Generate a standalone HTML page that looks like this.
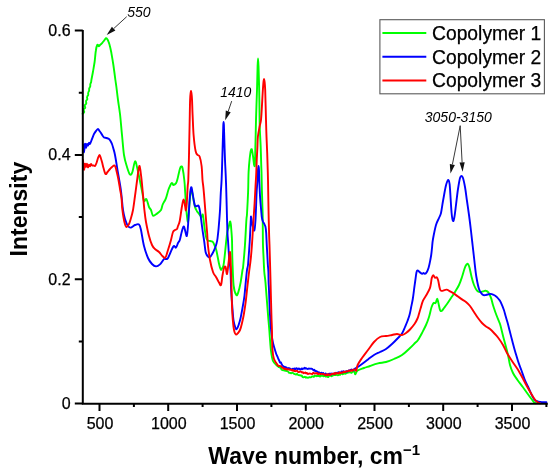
<!DOCTYPE html>
<html><head><meta charset="utf-8"><title>Spectra</title>
<style>html,body{margin:0;padding:0;background:#fff}body{width:550px;height:474px;position:relative;overflow:hidden}</style>
</head><body>
<svg width="550" height="474" viewBox="0 0 550 474" style="position:absolute;left:0;top:0">
<rect width="550" height="474" fill="#fff"/>
<path d="M82.6 113.8 C82.9 113.5 84.0 112.7 84.2 112.0 C84.4 111.3 83.4 110.3 83.6 109.6 C83.7 108.8 85.0 108.4 85.2 107.7 C85.4 107.0 84.5 106.0 84.7 105.3 C84.9 104.6 86.0 104.2 86.2 103.5 C86.5 102.8 85.8 101.9 86.0 101.2 C86.2 100.4 87.1 100.0 87.3 99.3 C87.4 98.5 86.9 97.6 87.1 96.9 C87.2 96.2 88.0 95.7 88.2 95.0 C88.4 94.3 88.0 93.4 88.2 92.7 C88.3 92.0 88.9 91.4 89.1 90.7 C89.3 90.0 89.0 89.1 89.2 88.4 C89.4 87.7 90.0 87.2 90.2 86.5 C90.4 85.8 90.2 84.9 90.3 84.2 C90.5 83.5 90.9 82.9 91.1 82.2 C91.3 81.5 91.1 81.7 91.4 80.0 C91.7 78.2 92.5 74.5 93.0 71.5 C93.5 68.5 94.1 65.4 94.6 62.0 C95.1 58.6 95.3 53.9 95.8 51.0 C96.2 48.1 96.8 45.6 97.3 44.8 C97.8 44.0 98.2 46.3 98.7 46.3 C99.2 46.3 99.5 45.5 100.0 45.0 C100.5 44.5 101.0 44.3 101.6 43.6 C102.2 42.9 103.1 41.9 103.8 41.0 C104.5 40.1 105.4 38.5 106.0 38.2 C106.6 37.9 107.0 38.8 107.4 39.3 C107.8 39.8 108.1 40.7 108.4 41.5 C108.7 42.3 108.9 42.5 109.4 44.2 C109.9 46.0 110.6 48.6 111.2 52.0 C111.8 55.4 112.6 59.8 113.3 64.5 C114.0 69.2 114.9 76.2 115.4 80.0 C115.9 83.8 116.0 83.7 116.4 87.0 C116.8 90.3 117.4 95.5 118.0 100.0 C118.6 104.5 119.3 108.2 120.0 114.0 C120.7 119.8 121.3 128.2 122.0 135.0 C122.7 141.8 123.2 149.7 124.0 155.0 C124.8 160.3 126.0 163.7 127.0 167.0 C128.0 170.3 129.1 173.8 130.0 174.6 C130.9 175.4 131.6 174.2 132.4 172.0 C133.2 169.8 134.2 162.2 135.0 161.4 C135.8 160.6 136.2 163.7 137.0 167.0 C137.8 170.3 139.2 177.0 140.0 181.0 C140.8 185.0 141.3 187.7 142.0 191.0 C142.7 194.3 143.3 199.7 144.0 201.0 C144.7 202.3 145.6 198.0 146.4 199.0 C147.2 200.0 148.2 205.2 149.0 207.0 C149.8 208.8 150.3 208.6 151.0 210.0 C151.7 211.4 152.0 215.0 153.0 215.6 C154.0 216.2 155.7 214.5 157.0 213.6 C158.3 212.7 160.1 211.4 161.0 210.0 C161.9 208.6 162.0 206.3 162.5 205.0 C163.0 203.7 163.4 203.1 164.0 202.0 C164.6 200.9 165.2 200.5 165.9 198.4 C166.7 196.3 167.8 191.6 168.5 189.5 C169.2 187.4 169.5 187.1 170.0 186.0 C170.5 184.9 171.2 183.5 171.6 183.1 C172.0 182.7 172.3 183.3 172.6 183.6 C172.9 183.9 172.9 185.1 173.5 185.0 C174.1 184.9 175.4 184.1 176.1 183.1 C176.8 182.1 177.1 180.5 177.5 179.0 C177.9 177.5 178.2 175.9 178.6 174.2 C179.0 172.4 179.6 169.8 180.0 168.5 C180.4 167.2 180.8 166.6 181.2 166.5 C181.6 166.4 182.0 165.8 182.5 168.0 C183.0 170.2 183.9 175.9 184.3 180.0 C184.8 184.1 184.9 188.0 185.2 192.7 C185.5 197.4 185.9 203.8 186.2 208.0 C186.5 212.2 186.9 216.0 187.2 218.2 C187.5 220.4 187.8 223.2 188.2 221.0 C188.6 218.8 189.0 209.8 189.4 205.0 C189.8 200.2 190.2 194.6 190.6 192.0 C190.9 189.4 191.2 189.2 191.5 189.5 C191.8 189.8 192.1 192.0 192.5 194.0 C192.9 196.0 193.4 199.4 193.8 201.6 C194.2 203.8 194.6 205.8 195.1 207.4 C195.6 209.0 196.4 210.1 197.0 211.2 C197.6 212.2 198.2 212.7 198.9 213.7 C199.7 214.7 200.9 216.9 201.5 217.0 C202.1 217.1 202.4 214.2 202.7 214.4 C203.0 214.6 203.1 215.9 203.4 218.2 C203.7 220.5 204.1 225.0 204.6 228.4 C205.1 231.8 205.9 236.5 206.5 238.5 C207.1 240.5 207.5 240.1 208.0 240.5 C208.5 240.9 208.8 240.8 209.4 240.9 C210.0 241.0 210.9 241.0 211.5 241.3 C212.1 241.6 212.6 241.7 213.2 242.5 C213.8 243.3 214.3 244.7 214.8 246.0 C215.3 247.3 215.7 247.6 216.4 250.5 C217.1 253.4 218.2 260.0 218.9 263.2 C219.6 266.4 220.3 268.7 220.8 269.6 C221.3 270.5 221.6 269.1 222.0 268.5 C222.4 267.9 223.0 267.6 223.4 265.7 C223.8 263.8 224.2 260.4 224.6 256.8 C225.0 253.2 225.5 248.1 225.9 244.1 C226.3 240.1 226.8 235.4 227.2 232.6 C227.6 229.8 228.2 229.0 228.6 227.5 C229.0 226.0 229.2 224.5 229.4 223.5 C229.7 222.5 229.9 221.3 230.1 221.4 C230.3 221.5 230.6 222.4 230.8 224.0 C231.0 225.6 231.2 228.3 231.4 231.0 C231.6 233.7 231.8 235.2 232.0 240.0 C232.2 244.8 232.1 252.4 232.4 260.0 C232.7 267.6 233.0 279.5 233.6 285.3 C234.2 291.1 235.4 293.5 236.2 294.8 C236.9 296.1 237.4 294.9 238.1 292.9 C238.8 290.9 239.9 286.5 240.6 282.7 C241.3 278.9 242.1 272.6 242.5 270.0 C242.9 267.4 242.7 270.8 243.1 267.0 C243.5 263.2 244.2 255.2 244.8 247.4 C245.4 239.6 246.0 225.6 246.4 220.0 C246.8 214.4 246.7 218.7 247.0 214.0 C247.3 209.3 247.8 199.0 248.1 192.0 C248.4 185.0 248.3 177.6 248.6 172.0 C248.9 166.4 249.3 162.0 249.7 158.4 C250.1 154.8 250.4 152.2 250.8 150.7 C251.2 149.2 251.5 148.7 251.9 149.6 C252.3 150.5 252.6 153.6 253.0 156.2 C253.4 158.8 253.8 163.7 254.1 165.0 C254.4 166.3 254.7 167.7 254.9 163.9 C255.1 160.1 255.3 149.3 255.5 142.0 C255.7 134.7 255.8 128.7 256.0 120.0 C256.2 111.3 256.7 99.0 257.0 90.0 C257.3 81.0 257.4 71.3 257.6 66.0 C257.8 60.7 257.9 58.4 258.0 58.4 C258.1 58.4 258.3 60.7 258.5 66.0 C258.7 71.3 259.0 81.0 259.2 90.0 C259.4 99.0 259.5 113.2 259.6 120.0 C259.7 126.8 259.7 126.4 259.9 131.0 C260.1 135.6 260.5 141.9 260.7 147.4 C260.9 152.9 261.1 159.8 261.2 163.9 C261.3 168.0 261.4 168.2 261.5 172.0 C261.6 175.8 261.7 181.3 261.8 186.5 C261.9 191.7 262.2 198.1 262.3 203.0 C262.4 207.9 262.6 209.5 262.7 216.0 C262.8 222.5 262.8 234.9 262.9 242.0 C263.0 249.1 263.4 253.4 263.6 258.4 C263.8 263.4 264.0 267.9 264.3 272.0 C264.6 276.1 265.1 277.7 265.5 282.7 C265.9 287.7 266.5 295.9 267.0 301.8 C267.5 307.8 267.9 313.7 268.3 318.4 C268.7 323.1 269.1 326.9 269.3 330.0 C269.6 333.1 269.5 333.5 269.8 337.0 C270.1 340.5 270.5 347.0 271.0 351.0 C271.5 355.0 272.0 358.6 273.0 361.0 C274.0 363.4 276.2 364.8 277.0 365.7 C277.8 366.5 277.5 365.8 277.8 366.0 C278.1 366.2 278.3 366.8 278.6 367.0 C278.9 367.1 279.1 367.1 279.4 367.2 C279.7 367.3 279.9 367.4 280.2 367.6 C280.5 367.8 280.7 368.2 281.0 368.6 C281.3 369.0 281.5 369.6 281.8 369.8 C282.1 370.1 282.3 370.0 282.6 370.1 C282.9 370.1 283.1 370.4 283.4 370.4 C283.7 370.3 283.9 369.9 284.2 370.0 C284.5 370.1 284.7 370.6 285.0 370.7 C285.3 370.9 285.5 370.7 285.8 370.8 C286.1 370.8 286.3 370.9 286.6 371.0 C286.9 371.0 287.1 371.1 287.4 371.2 C287.7 371.3 287.9 371.4 288.2 371.7 C288.5 371.9 288.7 372.6 289.0 372.8 C289.3 373.0 289.5 372.8 289.8 372.9 C290.1 372.9 290.3 373.0 290.6 373.0 C290.9 373.1 291.1 373.3 291.4 373.2 C291.7 373.2 291.9 372.7 292.2 372.7 C292.5 372.6 292.7 372.8 293.0 373.0 C293.3 373.2 293.5 373.5 293.8 373.6 C294.1 373.8 294.3 373.8 294.6 374.0 C294.9 374.1 295.1 374.2 295.4 374.3 C295.7 374.4 295.9 374.6 296.2 374.6 C296.5 374.5 296.7 373.8 297.0 373.8 C297.3 373.9 297.5 374.6 297.8 374.8 C298.1 375.0 298.3 375.1 298.6 375.2 C298.9 375.3 299.1 375.3 299.4 375.3 C299.7 375.3 299.9 375.1 300.2 375.2 C300.5 375.2 300.7 375.8 301.0 375.8 C301.3 375.9 301.5 375.4 301.8 375.6 C302.1 375.8 302.3 376.8 302.6 377.0 C302.9 377.3 303.1 377.2 303.4 377.3 C303.7 377.3 303.9 377.1 304.2 377.1 C304.5 377.0 304.7 376.7 305.0 376.8 C305.3 376.9 305.5 377.6 305.8 377.7 C306.1 377.7 306.3 377.3 306.6 377.3 C306.9 377.3 307.1 377.6 307.4 377.7 C307.7 377.8 307.9 377.8 308.2 377.7 C308.5 377.7 308.7 377.4 309.0 377.3 C309.3 377.3 309.5 377.3 309.8 377.3 C310.1 377.3 310.3 377.4 310.6 377.4 C310.9 377.3 311.1 377.1 311.4 377.0 C311.7 376.8 311.9 376.5 312.2 376.4 C312.5 376.4 312.7 376.4 313.0 376.4 C313.3 376.5 313.5 377.0 313.8 376.9 C314.1 376.8 314.3 376.0 314.6 375.7 C314.9 375.5 315.1 375.5 315.4 375.6 C315.7 375.6 315.9 376.1 316.2 376.2 C316.5 376.2 316.7 375.7 317.0 375.7 C317.3 375.7 317.5 376.0 317.8 376.0 C318.1 376.1 318.3 376.0 318.6 376.0 C318.9 375.9 319.1 375.7 319.4 375.8 C319.7 375.9 319.9 376.7 320.2 376.6 C320.5 376.6 320.7 375.7 321.0 375.6 C321.3 375.5 321.5 375.9 321.8 375.9 C322.1 375.9 322.3 375.6 322.6 375.6 C322.9 375.7 323.1 376.2 323.4 376.2 C323.7 376.2 323.9 375.8 324.2 375.7 C324.5 375.7 324.7 375.8 325.0 376.0 C325.3 376.1 325.5 376.6 325.8 376.6 C326.1 376.6 326.3 376.2 326.6 376.2 C326.9 376.2 327.1 376.4 327.4 376.6 C327.7 376.7 327.9 377.2 328.2 377.1 C328.5 377.0 328.7 376.1 329.0 375.9 C329.3 375.6 329.5 375.7 329.8 375.7 C330.1 375.6 330.3 375.6 330.6 375.7 C330.9 375.8 331.1 376.2 331.4 376.3 C331.7 376.3 331.9 376.1 332.2 375.9 C332.5 375.7 332.7 375.4 333.0 375.3 C333.3 375.1 333.5 375.3 333.8 375.2 C334.1 375.2 334.3 374.9 334.6 374.9 C334.9 374.8 335.1 375.1 335.4 375.1 C335.7 375.0 335.9 374.4 336.2 374.4 C336.5 374.4 336.7 374.9 337.0 375.1 C337.3 375.2 337.5 375.2 337.8 375.2 C338.1 375.2 338.3 375.2 338.6 375.1 C338.9 375.0 339.1 374.7 339.4 374.6 C339.7 374.6 339.9 375.0 340.2 374.8 C340.5 374.5 340.7 373.6 341.0 373.4 C341.3 373.2 341.5 373.4 341.8 373.6 C342.1 373.7 342.3 374.2 342.6 374.3 C342.9 374.3 343.1 374.1 343.4 373.9 C343.7 373.7 343.9 373.3 344.2 373.2 C344.5 373.2 344.7 373.8 345.0 373.8 C345.3 373.8 345.5 373.3 345.8 373.2 C346.1 373.1 346.3 373.4 346.6 373.3 C346.9 373.2 347.1 372.7 347.4 372.6 C347.7 372.4 347.9 372.3 348.2 372.3 C348.5 372.3 348.7 372.6 349.0 372.6 C349.3 372.5 349.5 372.1 349.8 372.1 C350.1 372.0 350.3 372.1 350.6 372.3 C350.9 372.4 351.1 373.0 351.4 372.9 C351.7 372.9 351.9 372.2 352.2 372.0 C352.5 371.8 352.7 371.6 353.0 371.5 C353.3 371.4 353.5 371.3 353.8 371.4 C354.1 371.6 354.3 371.9 354.6 372.4 C354.9 372.8 354.9 374.5 355.4 374.2 C355.9 373.9 356.2 371.6 357.6 370.6 C359.0 369.6 361.9 368.8 364.0 368.0 C366.1 367.2 367.7 366.8 370.0 366.0 C372.3 365.2 375.3 364.1 378.0 363.4 C380.7 362.7 383.3 362.7 386.0 362.0 C388.7 361.3 391.3 360.2 394.0 359.0 C396.7 357.8 399.3 356.8 402.0 355.0 C404.7 353.2 407.8 350.0 410.0 348.0 C412.2 346.0 413.7 344.3 415.0 343.0 C416.3 341.7 416.8 341.7 418.0 340.0 C419.2 338.3 420.7 335.5 422.0 333.0 C423.3 330.5 424.8 327.7 426.0 325.0 C427.2 322.3 428.1 320.0 429.0 317.0 C429.9 314.0 430.8 309.3 431.6 307.0 C432.4 304.7 432.9 303.7 433.6 303.0 C434.3 302.3 435.0 303.7 435.6 303.0 C436.2 302.3 436.7 298.6 437.2 298.6 C437.7 298.6 437.9 301.1 438.4 303.0 C438.9 304.9 439.5 308.7 440.0 310.0 C440.5 311.3 440.9 311.3 441.6 311.0 C442.3 310.7 443.1 309.2 444.0 308.0 C444.9 306.8 445.8 305.7 447.0 304.0 C448.2 302.3 449.7 300.0 451.0 298.0 C452.3 296.0 453.7 294.2 455.0 292.0 C456.3 289.8 457.8 287.5 459.0 285.0 C460.2 282.5 461.1 279.7 462.0 277.0 C462.9 274.3 463.7 271.1 464.4 269.0 C465.1 266.9 465.8 265.4 466.4 264.6 C467.0 263.8 467.5 263.4 468.0 264.0 C468.5 264.6 469.0 265.8 469.6 268.0 C470.2 270.2 470.9 274.2 471.6 277.0 C472.3 279.8 473.1 282.7 474.0 285.0 C474.9 287.3 476.0 289.4 477.0 290.6 C478.0 291.8 479.0 291.9 480.0 292.0 C481.0 292.1 482.1 291.6 483.0 291.4 C483.9 291.2 484.6 290.5 485.5 290.7 C486.4 290.9 487.7 291.3 488.6 292.6 C489.6 293.9 490.5 296.4 491.2 298.4 C491.9 300.4 492.3 302.8 492.9 304.7 C493.5 306.6 494.0 308.2 494.6 310.0 C495.2 311.8 495.9 313.6 496.6 315.5 C497.3 317.4 498.3 319.8 499.0 321.5 C499.7 323.2 499.9 323.4 500.6 326.0 C501.3 328.6 502.4 333.5 503.3 337.0 C504.2 340.5 505.2 344.0 506.0 347.0 C506.8 350.0 507.3 352.0 508.0 355.0 C508.7 358.0 509.2 362.0 510.0 365.0 C510.8 368.0 511.8 370.5 513.0 373.0 C514.2 375.5 515.9 377.7 517.5 380.0 C519.1 382.3 521.1 384.7 522.8 387.0 C524.5 389.3 526.3 392.0 527.8 394.0 C529.2 396.0 530.4 397.6 531.5 399.0 C532.6 400.4 533.5 401.7 534.2 402.4 C535.0 403.1 535.7 403.1 536.0 403.3" fill="none" stroke="#00ff00" stroke-width="1.90" stroke-linejoin="round" stroke-linecap="round"/>
<path d="M83.0 144.5 C83.2 145.8 83.7 152.4 84.0 152.3 C84.3 152.2 84.7 144.6 85.0 143.8 C85.3 143.1 85.7 147.7 86.0 147.7 C86.3 147.8 86.7 144.3 87.0 143.9 C87.3 143.6 87.7 145.8 88.0 145.6 C88.3 145.5 88.7 143.1 89.0 142.8 C89.3 142.5 89.5 144.5 90.0 143.9 C90.5 143.3 91.3 140.6 92.0 139.0 C92.7 137.4 93.3 135.3 94.0 134.0 C94.7 132.7 95.3 131.8 96.0 131.0 C96.7 130.2 97.4 129.0 98.0 129.0 C98.6 129.0 99.0 130.3 99.5 131.0 C100.0 131.7 100.5 132.2 101.0 133.0 C101.5 133.8 102.0 134.8 102.5 135.5 C103.0 136.2 103.3 137.0 104.0 137.4 C104.7 137.8 105.7 137.7 106.5 138.0 C107.3 138.3 108.3 138.5 109.0 139.0 C109.7 139.5 110.0 140.2 110.5 141.0 C111.0 141.8 111.5 142.7 112.0 144.0 C112.5 145.3 113.0 147.2 113.5 149.0 C114.0 150.8 114.2 151.0 115.0 155.0 C115.8 159.0 117.0 167.0 118.0 173.0 C119.0 179.0 120.2 184.8 121.0 191.0 C121.8 197.2 122.3 205.3 123.0 210.0 C123.7 214.7 124.2 216.3 125.0 219.0 C125.8 221.7 127.0 224.6 128.0 226.0 C129.0 227.4 129.8 227.8 131.0 227.6 C132.2 227.4 133.7 225.5 135.0 225.0 C136.3 224.5 138.0 223.6 139.0 224.4 C140.0 225.2 140.2 226.4 141.0 230.0 C141.8 233.6 142.8 241.3 144.0 246.0 C145.2 250.7 146.7 255.0 148.0 258.0 C149.3 261.0 150.7 262.6 152.0 264.0 C153.3 265.4 154.7 266.3 156.0 266.4 C157.3 266.5 158.7 265.6 160.0 264.4 C161.3 263.2 163.0 259.9 164.0 259.0 C165.0 258.1 165.3 259.2 166.0 259.0 C166.7 258.8 167.0 259.7 168.0 258.0 C169.0 256.3 171.0 251.0 172.0 249.0 C173.0 247.0 173.3 246.2 174.0 246.0 C174.7 245.8 175.3 248.1 176.0 247.6 C176.7 247.1 177.4 244.3 178.0 243.0 C178.6 241.7 179.2 241.8 179.8 240.0 C180.4 238.2 181.1 234.2 181.7 232.0 C182.3 229.8 183.1 226.9 183.6 226.5 C184.1 226.1 184.4 228.0 184.9 229.6 C185.4 231.2 186.3 236.8 186.8 236.0 C187.3 235.2 187.7 230.0 188.1 224.5 C188.5 219.0 189.0 208.8 189.4 203.0 C189.8 197.2 190.2 192.6 190.6 190.0 C190.9 187.4 191.2 187.0 191.5 187.4 C191.8 187.8 192.1 190.5 192.5 192.7 C192.9 194.9 193.4 198.2 193.8 200.4 C194.2 202.6 194.6 205.1 195.1 206.0 C195.6 206.9 196.5 206.1 197.0 206.0 C197.5 205.9 197.9 205.1 198.3 205.5 C198.7 205.9 199.1 206.7 199.5 208.6 C199.9 210.5 200.4 213.9 200.8 217.0 C201.2 220.1 201.7 223.8 202.1 227.0 C202.5 230.2 203.0 233.5 203.4 236.0 C203.8 238.5 203.9 239.3 204.3 242.0 C204.7 244.7 205.1 249.7 205.6 252.0 C206.1 254.3 206.8 255.2 207.5 256.0 C208.2 256.8 209.1 257.6 210.0 257.0 C210.9 256.4 212.2 254.0 213.0 252.5 C213.8 251.0 214.5 249.4 215.1 247.9 C215.7 246.4 216.1 245.1 216.5 243.5 C216.9 241.9 217.2 241.0 217.5 238.5 C217.8 236.0 218.2 232.8 218.6 228.4 C219.0 224.0 219.5 217.8 219.9 211.8 C220.3 205.9 220.5 198.0 220.8 192.7 C221.1 187.4 221.3 186.3 221.6 180.0 C221.9 173.7 222.2 162.5 222.4 155.0 C222.6 147.5 222.8 140.0 223.0 135.0 C223.2 130.0 223.2 127.2 223.3 125.0 C223.4 122.8 223.5 122.0 223.6 122.0 C223.7 122.0 223.8 122.8 223.9 125.0 C224.0 127.2 224.0 129.2 224.2 135.0 C224.4 140.8 224.7 152.5 225.0 160.0 C225.3 167.5 225.7 173.5 225.9 180.0 C226.2 186.5 226.3 192.7 226.5 199.0 C226.7 205.3 226.8 212.2 227.0 218.0 C227.2 223.8 227.3 229.5 227.5 233.5 C227.7 237.5 227.8 237.6 228.1 242.0 C228.4 246.4 228.9 255.3 229.3 260.0 C229.7 264.7 230.2 265.2 230.5 270.0 C230.8 274.8 230.8 282.7 231.1 289.0 C231.4 295.3 232.0 302.7 232.4 308.0 C232.8 313.3 233.1 317.7 233.6 321.0 C234.1 324.3 235.0 326.7 235.5 328.0 C236.0 329.3 236.3 329.6 236.8 329.0 C237.3 328.4 238.1 326.5 238.7 324.7 C239.3 322.9 240.0 320.8 240.6 318.0 C241.2 315.2 241.8 311.8 242.5 308.0 C243.2 304.2 244.0 299.7 244.5 295.5 C245.0 291.3 245.3 286.9 245.7 282.7 C246.1 278.4 246.6 273.1 247.0 270.0 C247.4 266.9 247.7 268.7 248.1 264.0 C248.5 259.3 249.2 249.3 249.7 242.0 C250.1 234.7 250.6 224.2 250.8 220.0 C251.0 215.8 250.8 216.2 251.1 217.0 C251.4 217.8 252.0 222.8 252.5 225.0 C253.0 227.2 253.8 231.3 254.3 230.5 C254.8 229.7 255.1 225.9 255.5 220.0 C255.9 214.1 256.2 201.5 256.5 195.0 C256.8 188.5 257.1 185.2 257.4 181.0 C257.6 176.8 257.8 172.5 258.0 170.0 C258.2 167.5 258.3 166.0 258.5 166.0 C258.7 166.0 258.9 167.5 259.0 170.0 C259.1 172.5 259.1 176.4 259.3 181.0 C259.5 185.6 259.8 192.8 260.1 197.4 C260.4 202.0 260.7 205.1 261.0 208.4 C261.3 211.7 261.5 214.8 261.8 217.0 C262.1 219.2 262.5 220.4 262.9 221.5 C263.3 222.6 263.6 222.5 264.0 223.3 C264.4 224.2 265.0 225.0 265.4 226.6 C265.8 228.2 265.9 229.5 266.2 233.0 C266.4 236.5 266.6 242.2 266.9 247.4 C267.2 252.6 267.6 259.9 267.8 264.0 C268.1 268.1 268.3 268.9 268.4 272.0 C268.5 275.1 268.5 279.7 268.6 282.7 C268.7 285.7 268.8 284.6 269.0 290.0 C269.2 295.4 269.6 308.2 270.0 315.0 C270.4 321.8 270.7 326.3 271.2 331.0 C271.7 335.7 272.2 339.3 273.0 343.0 C273.8 346.7 275.4 351.1 276.0 353.2 C276.6 355.2 276.5 354.5 276.8 355.1 C277.1 355.8 277.3 356.3 277.6 357.0 C277.9 357.6 278.1 358.4 278.4 359.0 C278.7 359.6 278.9 359.9 279.2 360.5 C279.5 361.1 279.7 362.2 280.0 362.5 C280.3 362.9 280.5 362.2 280.8 362.4 C281.1 362.6 281.3 363.4 281.6 364.0 C281.9 364.5 282.1 365.2 282.4 365.6 C282.7 365.9 282.9 365.9 283.2 366.2 C283.5 366.5 283.7 367.4 284.0 367.5 C284.3 367.6 284.5 366.8 284.8 366.8 C285.1 366.8 285.3 367.4 285.6 367.5 C285.9 367.6 286.1 367.4 286.4 367.5 C286.7 367.6 286.9 368.0 287.2 368.1 C287.5 368.3 287.7 368.5 288.0 368.4 C288.3 368.4 288.5 368.0 288.8 368.0 C289.1 368.0 289.3 368.4 289.6 368.5 C289.9 368.6 290.1 368.5 290.4 368.7 C290.7 368.9 290.9 369.4 291.2 369.5 C291.5 369.6 291.7 369.5 292.0 369.3 C292.3 369.2 292.5 368.6 292.8 368.6 C293.1 368.6 293.3 369.4 293.6 369.4 C293.9 369.4 294.1 368.6 294.4 368.5 C294.7 368.5 294.9 369.2 295.2 369.2 C295.5 369.2 295.7 368.6 296.0 368.5 C296.3 368.4 296.5 368.2 296.8 368.4 C297.1 368.5 297.3 369.4 297.6 369.5 C297.9 369.5 298.1 368.8 298.4 368.6 C298.7 368.5 298.9 368.5 299.2 368.6 C299.5 368.8 299.7 369.5 300.0 369.6 C300.3 369.7 300.5 369.5 300.8 369.4 C301.1 369.2 301.3 368.5 301.6 368.5 C301.9 368.4 302.1 369.2 302.4 369.2 C302.7 369.2 302.9 368.6 303.2 368.5 C303.5 368.4 303.7 368.7 304.0 368.6 C304.3 368.4 304.5 367.8 304.8 367.8 C305.1 367.8 305.3 368.6 305.6 368.6 C305.9 368.7 306.1 368.3 306.4 368.3 C306.7 368.4 306.9 368.8 307.2 368.9 C307.5 369.0 307.7 369.1 308.0 369.0 C308.3 368.9 308.5 368.4 308.8 368.4 C309.1 368.3 309.3 368.6 309.6 368.7 C309.9 368.7 310.1 368.6 310.4 368.6 C310.7 368.6 310.9 368.7 311.2 368.8 C311.5 368.8 311.7 368.7 312.0 368.8 C312.3 369.0 312.5 369.3 312.8 369.5 C313.1 369.7 313.3 370.2 313.6 370.3 C313.9 370.3 314.1 369.7 314.4 369.8 C314.7 370.0 314.9 370.9 315.2 371.1 C315.5 371.3 315.7 370.9 316.0 371.0 C316.3 371.0 316.5 371.1 316.8 371.3 C317.1 371.5 317.3 372.2 317.6 372.3 C317.9 372.5 318.1 372.2 318.4 372.3 C318.7 372.3 318.9 372.3 319.2 372.4 C319.5 372.5 319.7 372.8 320.0 373.0 C320.3 373.1 320.5 373.5 320.8 373.4 C321.1 373.4 321.3 372.6 321.6 372.7 C321.9 372.9 322.1 374.1 322.4 374.1 C322.7 374.1 322.9 373.0 323.2 373.0 C323.5 373.0 323.7 373.9 324.0 374.1 C324.3 374.4 324.5 374.5 324.8 374.4 C325.1 374.3 325.3 373.5 325.6 373.5 C325.9 373.5 326.1 374.5 326.4 374.7 C326.7 374.8 326.9 374.3 327.2 374.3 C327.5 374.3 327.7 374.8 328.0 374.7 C328.3 374.6 328.5 374.0 328.8 373.8 C329.1 373.6 329.3 373.7 329.6 373.7 C329.9 373.7 330.1 373.6 330.4 373.7 C330.7 373.8 330.9 374.6 331.2 374.6 C331.5 374.5 331.7 373.5 332.0 373.4 C332.3 373.3 332.5 373.9 332.8 374.0 C333.1 374.1 333.3 374.1 333.6 374.0 C333.9 374.0 334.1 374.1 334.4 373.9 C334.7 373.7 334.9 373.1 335.2 373.0 C335.5 372.8 335.7 372.8 336.0 372.8 C336.3 372.8 336.5 372.9 336.8 372.9 C337.1 373.0 337.3 373.2 337.6 373.1 C337.9 373.0 338.1 372.2 338.4 372.1 C338.7 372.1 338.9 372.7 339.2 372.8 C339.5 372.9 339.7 372.8 340.0 372.7 C340.3 372.7 340.5 372.9 340.8 372.7 C341.1 372.5 341.3 371.5 341.6 371.5 C341.9 371.5 342.1 372.6 342.4 372.6 C342.7 372.5 342.9 371.5 343.2 371.3 C343.5 371.1 343.7 371.4 344.0 371.5 C344.3 371.6 344.5 371.7 344.8 371.7 C345.1 371.8 345.3 372.1 345.6 372.0 C345.9 371.9 346.1 371.2 346.4 371.1 C346.7 371.0 346.9 371.7 347.2 371.7 C347.5 371.7 347.7 371.2 348.0 371.0 C348.3 370.8 348.5 370.6 348.8 370.5 C349.1 370.4 349.3 370.5 349.6 370.4 C349.9 370.3 350.1 370.1 350.4 370.0 C350.7 369.9 350.9 369.8 351.2 369.7 C351.5 369.6 351.7 369.5 352.0 369.6 C352.3 369.7 352.5 370.0 352.8 370.1 C353.1 370.3 353.3 370.5 353.6 370.4 C353.9 370.2 353.8 369.6 354.4 369.1 C355.0 368.6 355.7 368.2 357.0 367.4 C358.3 366.6 360.2 365.3 362.0 364.0 C363.8 362.7 366.0 360.9 368.0 359.4 C370.0 357.9 372.0 356.2 374.0 355.0 C376.0 353.8 378.0 353.0 380.0 352.0 C382.0 351.0 384.0 350.3 386.0 349.0 C388.0 347.7 390.0 345.8 392.0 344.0 C394.0 342.2 396.3 339.8 398.0 338.0 C399.7 336.2 400.8 335.3 402.0 333.5 C403.2 331.7 404.1 329.1 405.0 327.0 C405.9 324.9 406.8 323.0 407.5 321.0 C408.2 319.0 408.9 317.2 409.5 315.0 C410.1 312.8 410.5 310.6 411.0 308.0 C411.5 305.4 412.2 302.5 412.7 299.5 C413.2 296.5 413.6 293.2 414.0 290.0 C414.4 286.8 414.9 283.5 415.3 280.5 C415.7 277.5 416.1 273.9 416.5 272.2 C416.9 270.5 417.2 270.4 417.8 270.5 C418.4 270.6 419.6 272.2 420.4 272.8 C421.1 273.4 421.8 273.8 422.3 273.8 C422.8 273.8 423.1 273.0 423.5 273.0 C423.9 273.0 424.3 273.9 424.8 273.8 C425.3 273.7 426.1 273.2 426.7 272.2 C427.3 271.2 428.0 269.7 428.6 267.7 C429.2 265.7 429.9 262.2 430.3 260.1 C430.7 258.0 430.9 257.0 431.2 255.0 C431.5 253.0 431.7 250.7 432.0 248.0 C432.3 245.3 432.3 242.8 433.0 239.0 C433.7 235.2 435.0 228.5 436.0 225.0 C437.0 221.5 438.2 220.0 439.0 218.0 C439.8 216.0 440.3 215.8 441.0 213.0 C441.7 210.2 442.2 205.3 443.0 201.0 C443.8 196.7 444.9 190.2 445.6 187.0 C446.3 183.8 446.5 183.2 447.0 182.0 C447.5 180.8 448.0 179.7 448.4 180.0 C448.8 180.3 449.3 181.5 449.6 184.0 C449.9 186.5 450.1 190.2 450.4 195.0 C450.7 199.8 451.2 208.7 451.6 213.0 C452.0 217.3 452.5 220.3 453.0 221.0 C453.5 221.7 453.9 219.7 454.4 217.0 C454.9 214.3 455.4 209.7 456.0 205.0 C456.6 200.3 457.3 193.5 458.0 189.0 C458.7 184.5 459.4 180.2 460.0 178.0 C460.6 175.8 461.1 176.0 461.6 176.0 C462.1 176.0 462.4 176.2 463.0 178.0 C463.6 179.8 464.3 183.2 465.0 187.0 C465.7 190.8 466.3 196.3 467.0 201.0 C467.7 205.7 468.3 210.0 469.0 215.0 C469.7 220.0 470.4 225.8 471.0 231.0 C471.6 236.2 472.1 241.0 472.7 246.0 C473.3 251.0 473.8 255.8 474.4 261.0 C475.0 266.2 475.6 272.3 476.4 277.0 C477.2 281.7 478.1 286.2 479.0 289.0 C479.9 291.8 480.8 292.5 481.5 293.5 C482.2 294.5 482.8 294.9 483.5 295.2 C484.2 295.4 484.8 295.2 486.0 295.0 C487.2 294.8 489.2 293.9 490.5 293.9 C491.8 293.9 492.9 294.5 494.0 295.0 C495.1 295.5 496.1 296.4 496.9 297.1 C497.7 297.9 498.4 298.6 499.0 299.5 C499.6 300.4 499.9 300.4 500.7 302.2 C501.5 303.9 503.1 307.7 503.9 310.0 C504.7 312.3 505.0 314.0 505.6 316.0 C506.2 318.0 506.7 319.6 507.4 322.0 C508.1 324.4 508.8 327.3 509.6 330.5 C510.4 333.7 511.4 337.6 512.3 341.0 C513.2 344.4 514.0 347.7 515.0 351.0 C516.0 354.3 517.0 357.8 518.0 361.0 C519.0 364.2 520.2 367.0 521.3 370.0 C522.4 373.0 523.3 376.0 524.5 379.0 C525.7 382.0 527.3 385.2 528.6 388.0 C529.9 390.8 531.3 394.1 532.3 396.0 C533.3 397.9 533.7 398.7 534.5 399.6 C535.3 400.5 536.1 400.8 537.0 401.2 C537.9 401.6 539.0 401.8 540.0 401.9 C541.0 402.0 541.9 402.1 543.0 402.1 C544.1 402.2 545.8 402.2 546.4 402.2" fill="none" stroke="#0000ff" stroke-width="1.90" stroke-linejoin="round" stroke-linecap="round"/>
<path d="M83.0 160.0 C83.2 161.6 83.7 169.1 84.0 169.7 C84.3 170.4 84.7 164.2 85.0 163.7 C85.3 163.2 85.7 167.0 86.0 167.0 C86.3 167.0 86.7 163.6 87.0 163.7 C87.3 163.7 87.7 167.2 88.0 167.4 C88.3 167.6 88.7 164.9 89.0 164.7 C89.3 164.6 89.7 166.4 90.0 166.3 C90.3 166.2 90.7 164.3 91.0 164.1 C91.3 163.9 91.6 165.1 92.0 165.3 C92.4 165.5 93.0 165.4 93.5 165.5 C94.0 165.6 94.5 166.4 95.0 166.0 C95.5 165.6 96.0 164.3 96.5 163.0 C97.0 161.7 97.5 159.3 98.0 158.0 C98.5 156.7 99.1 155.0 99.6 155.0 C100.1 155.0 100.4 156.8 100.8 158.0 C101.2 159.2 101.5 160.3 102.0 162.0 C102.5 163.7 102.9 166.0 103.5 168.0 C104.1 170.0 104.9 173.3 105.6 174.0 C106.3 174.7 106.8 172.8 107.5 172.0 C108.2 171.2 109.2 169.8 110.0 169.0 C110.8 168.2 111.3 167.6 112.0 167.0 C112.7 166.4 113.8 165.2 114.4 165.4 C115.0 165.6 115.4 166.7 115.8 168.0 C116.2 169.3 116.5 171.0 117.0 173.0 C117.5 175.0 118.0 177.3 118.5 180.0 C119.0 182.7 119.5 186.0 120.0 189.0 C120.5 192.0 121.1 194.5 121.5 198.0 C121.9 201.5 121.9 206.0 122.4 210.0 C122.9 214.0 123.7 219.2 124.4 222.0 C125.1 224.8 125.6 226.7 126.4 227.0 C127.2 227.3 128.2 225.5 129.0 224.0 C129.8 222.5 130.3 220.3 131.0 218.0 C131.7 215.7 132.3 213.7 133.0 210.0 C133.7 206.3 134.3 200.8 135.0 196.0 C135.7 191.2 136.4 185.2 137.0 181.0 C137.6 176.8 137.9 173.5 138.3 171.0 C138.7 168.5 139.1 166.3 139.4 166.0 C139.7 165.7 139.9 167.5 140.2 169.0 C140.5 170.5 140.7 172.5 141.0 175.0 C141.3 177.5 141.7 180.7 142.0 184.0 C142.3 187.3 142.6 190.7 143.0 195.0 C143.4 199.3 143.9 205.5 144.4 210.0 C144.9 214.5 145.2 217.7 146.0 222.0 C146.8 226.3 148.0 232.2 149.0 236.0 C150.0 239.8 151.0 242.8 152.0 245.0 C153.0 247.2 153.8 247.8 155.0 249.0 C156.2 250.2 157.8 250.9 159.0 252.0 C160.2 253.1 161.0 254.6 162.0 255.6 C163.0 256.6 164.2 258.1 165.0 258.0 C165.8 257.9 166.0 256.3 166.5 255.0 C167.0 253.7 167.2 252.5 168.0 250.0 C168.8 247.5 170.2 243.0 171.0 240.0 C171.8 237.0 172.3 233.7 173.0 232.0 C173.7 230.3 174.3 230.5 175.0 230.0 C175.7 229.5 176.5 229.7 177.0 229.0 C177.5 228.3 177.5 227.4 178.0 226.0 C178.5 224.6 179.2 223.7 179.8 220.7 C180.4 217.7 181.1 211.5 181.7 208.0 C182.3 204.5 182.9 200.4 183.4 199.7 C183.9 198.9 184.3 201.7 184.7 203.5 C185.1 205.3 185.6 210.6 185.9 210.5 C186.2 210.4 186.5 207.0 186.8 203.0 C187.1 199.0 187.4 190.2 187.7 186.4 C187.9 182.6 188.1 185.2 188.3 180.0 C188.5 174.8 188.8 164.2 189.0 155.0 C189.2 145.8 189.4 134.2 189.6 125.0 C189.8 115.8 189.9 105.2 190.1 100.0 C190.3 94.8 190.4 95.0 190.6 93.5 C190.8 92.0 190.8 91.0 191.0 91.0 C191.2 91.0 191.3 92.2 191.5 93.5 C191.7 94.8 191.8 95.4 192.0 99.0 C192.2 102.6 192.3 109.0 192.6 115.0 C192.9 121.0 193.1 129.0 193.6 135.0 C194.1 141.0 194.9 147.7 195.6 151.0 C196.3 154.3 196.9 154.1 197.6 155.0 C198.3 155.9 198.9 154.7 199.6 156.5 C200.3 158.3 201.1 162.1 201.6 166.0 C202.1 169.9 202.2 176.4 202.5 180.0 C202.8 183.6 203.1 184.0 203.4 187.6 C203.8 191.2 204.2 196.5 204.6 201.6 C205.0 206.7 205.5 212.7 205.9 218.0 C206.3 223.3 206.8 228.8 207.2 233.5 C207.5 238.2 207.5 241.6 208.0 246.0 C208.5 250.4 209.2 255.7 210.0 260.0 C210.8 264.3 212.0 269.2 213.0 272.0 C214.0 274.8 215.0 275.3 216.0 277.0 C217.0 278.7 218.2 281.1 219.0 282.4 C219.8 283.7 220.4 286.1 221.0 285.0 C221.6 283.9 221.9 278.8 222.4 276.0 C222.9 273.2 223.5 269.5 224.0 268.0 C224.5 266.5 225.1 266.0 225.6 267.0 C226.1 268.0 226.5 274.5 227.0 274.0 C227.5 273.5 227.9 267.7 228.4 264.0 C228.9 260.3 229.6 251.0 230.0 252.0 C230.4 253.0 230.7 262.8 231.0 270.0 C231.3 277.2 231.5 288.1 231.7 295.5 C231.9 302.9 232.1 309.4 232.4 314.5 C232.7 319.6 233.1 323.1 233.4 326.0 C233.8 328.9 234.1 330.6 234.5 332.0 C234.9 333.4 235.4 334.4 236.0 334.6 C236.6 334.8 237.3 333.8 238.0 333.0 C238.7 332.2 239.3 331.6 240.0 330.0 C240.7 328.4 241.3 326.1 241.9 323.5 C242.5 320.9 243.2 318.1 243.8 314.5 C244.4 310.9 245.1 306.5 245.7 301.8 C246.3 297.1 246.8 291.6 247.4 286.5 C248.0 281.4 248.6 275.7 249.2 271.0 C249.8 266.3 250.2 264.1 250.8 258.4 C251.4 252.6 252.1 242.9 252.5 236.5 C252.9 230.1 253.2 225.6 253.5 220.0 C253.8 214.4 254.3 208.6 254.6 203.0 C254.9 197.4 255.2 191.7 255.5 186.5 C255.8 181.3 256.1 176.7 256.3 172.0 C256.5 167.3 256.6 162.5 256.8 158.4 C257.0 154.3 257.2 151.1 257.4 147.4 C257.6 143.8 257.5 140.0 257.9 136.5 C258.3 133.0 259.1 129.3 259.6 126.6 C260.1 123.8 260.6 123.6 261.0 120.0 C261.4 116.4 261.7 110.3 262.0 105.0 C262.3 99.7 262.7 92.0 263.0 88.0 C263.3 84.0 263.4 82.5 263.6 81.0 C263.8 79.5 263.9 79.0 264.0 79.0 C264.1 79.0 264.3 79.2 264.5 81.0 C264.7 82.8 264.9 83.5 265.2 90.0 C265.4 96.5 265.8 112.2 266.0 120.0 C266.2 127.8 266.3 131.0 266.5 136.5 C266.7 142.0 267.0 147.1 267.2 153.0 C267.4 158.9 267.6 165.5 267.8 172.0 C268.0 178.5 268.1 185.0 268.2 192.0 C268.3 199.0 268.5 207.7 268.6 214.0 C268.7 220.3 268.9 224.8 269.0 230.0 C269.1 235.2 269.3 239.7 269.5 245.0 C269.7 250.3 269.8 256.2 270.0 262.0 C270.2 267.8 270.3 273.7 270.5 280.0 C270.7 286.3 270.8 293.7 271.0 300.0 C271.2 306.3 271.3 312.7 271.5 318.0 C271.7 323.3 271.9 326.8 272.0 332.0 C272.1 337.2 272.1 344.5 272.4 349.0 C272.7 353.5 273.1 356.3 274.0 359.0 C274.9 361.7 277.2 364.2 278.0 365.4 C278.8 366.5 278.5 365.8 278.8 365.9 C279.1 366.0 279.3 365.9 279.6 365.9 C279.9 366.0 280.1 366.1 280.4 366.1 C280.7 366.2 280.9 366.0 281.2 366.3 C281.5 366.5 281.7 367.3 282.0 367.6 C282.3 367.9 282.5 367.7 282.8 367.8 C283.1 368.0 283.3 368.6 283.6 368.7 C283.9 368.8 284.1 368.4 284.4 368.5 C284.7 368.6 284.9 369.1 285.2 369.2 C285.5 369.2 285.7 368.6 286.0 368.7 C286.3 368.7 286.5 369.3 286.8 369.5 C287.1 369.6 287.3 369.6 287.6 369.5 C287.9 369.5 288.1 369.3 288.4 369.3 C288.7 369.3 288.9 369.5 289.2 369.6 C289.5 369.7 289.7 369.9 290.0 369.9 C290.3 369.9 290.5 369.4 290.8 369.4 C291.1 369.4 291.3 369.8 291.6 370.0 C291.9 370.2 292.1 370.5 292.4 370.5 C292.7 370.5 292.9 369.9 293.2 370.0 C293.5 370.1 293.7 370.7 294.0 370.9 C294.3 371.1 294.5 370.9 294.8 370.9 C295.1 371.0 295.3 371.4 295.6 371.3 C295.9 371.3 296.1 371.0 296.4 370.9 C296.7 370.8 296.9 370.6 297.2 370.8 C297.5 370.9 297.7 371.7 298.0 371.9 C298.3 372.1 298.5 372.1 298.8 372.1 C299.1 372.1 299.3 371.9 299.6 371.8 C299.9 371.7 300.1 371.5 300.4 371.5 C300.7 371.5 300.9 371.7 301.2 371.8 C301.5 372.0 301.7 372.5 302.0 372.5 C302.3 372.6 302.5 372.1 302.8 372.2 C303.1 372.3 303.3 373.1 303.6 373.2 C303.9 373.3 304.1 373.0 304.4 372.9 C304.7 372.8 304.9 372.5 305.2 372.5 C305.5 372.6 305.7 373.2 306.0 373.3 C306.3 373.3 306.5 372.9 306.8 373.0 C307.1 373.1 307.3 373.7 307.6 373.9 C307.9 374.0 308.1 374.0 308.4 373.9 C308.7 373.9 308.9 373.5 309.2 373.4 C309.5 373.4 309.7 373.5 310.0 373.6 C310.3 373.6 310.5 373.6 310.8 373.7 C311.1 373.7 311.3 373.7 311.6 373.8 C311.9 373.9 312.1 374.2 312.4 374.0 C312.7 373.9 312.9 372.9 313.2 372.8 C313.5 372.7 313.7 373.1 314.0 373.2 C314.3 373.3 314.5 373.5 314.8 373.5 C315.1 373.5 315.3 373.1 315.6 373.1 C315.9 373.2 316.1 373.6 316.4 373.6 C316.7 373.6 316.9 372.9 317.2 373.0 C317.5 373.1 317.7 374.1 318.0 374.2 C318.3 374.3 318.5 374.0 318.8 373.9 C319.1 373.7 319.3 373.4 319.6 373.4 C319.9 373.5 320.1 374.2 320.4 374.3 C320.7 374.3 320.9 374.0 321.2 373.9 C321.5 373.8 321.7 373.8 322.0 373.9 C322.3 373.9 322.5 374.3 322.8 374.3 C323.1 374.3 323.3 374.0 323.6 374.0 C323.9 374.0 324.1 374.0 324.4 374.2 C324.7 374.4 324.9 375.0 325.2 375.1 C325.5 375.3 325.7 375.2 326.0 375.0 C326.3 374.9 326.5 374.2 326.8 374.2 C327.1 374.3 327.3 375.3 327.6 375.3 C327.9 375.3 328.1 374.4 328.4 374.3 C328.7 374.2 328.9 374.4 329.2 374.5 C329.5 374.7 329.7 375.1 330.0 375.1 C330.3 375.1 330.5 374.8 330.8 374.6 C331.1 374.4 331.3 374.1 331.6 374.0 C331.9 373.9 332.1 374.0 332.4 374.0 C332.7 373.9 332.9 373.9 333.2 373.8 C333.5 373.7 333.7 373.2 334.0 373.3 C334.3 373.4 334.5 374.4 334.8 374.3 C335.1 374.2 335.3 373.1 335.6 372.9 C335.9 372.7 336.1 373.1 336.4 373.2 C336.7 373.3 336.9 373.5 337.2 373.5 C337.5 373.4 337.7 372.9 338.0 372.9 C338.3 372.9 338.5 373.6 338.8 373.5 C339.1 373.4 339.3 372.4 339.6 372.3 C339.9 372.3 340.1 373.1 340.4 373.1 C340.7 373.2 340.9 373.0 341.2 372.9 C341.5 372.7 341.7 372.5 342.0 372.4 C342.3 372.4 342.5 372.6 342.8 372.5 C343.1 372.4 343.3 371.9 343.6 371.8 C343.9 371.7 344.1 372.1 344.4 372.2 C344.7 372.2 344.9 372.1 345.2 371.9 C345.5 371.8 345.7 371.5 346.0 371.4 C346.3 371.3 346.5 371.2 346.8 371.2 C347.1 371.2 347.3 371.5 347.6 371.4 C347.9 371.4 348.1 371.1 348.4 370.9 C348.7 370.7 348.9 370.3 349.2 370.4 C349.5 370.4 349.7 371.1 350.0 371.1 C350.3 371.1 350.5 370.4 350.8 370.3 C351.1 370.3 351.3 370.4 351.6 370.5 C351.9 370.6 352.1 370.9 352.4 370.8 C352.7 370.7 352.9 370.1 353.2 369.9 C353.5 369.6 353.7 369.6 354.0 369.5 C354.3 369.5 354.4 369.4 354.8 369.5 C355.2 369.7 355.8 371.3 356.3 370.5 C356.8 369.7 356.7 367.1 357.6 365.0 C358.6 362.9 360.3 360.5 362.0 358.0 C363.7 355.5 366.0 352.7 368.0 350.0 C370.0 347.3 372.0 344.2 374.0 342.0 C376.0 339.8 378.0 338.0 380.0 337.0 C382.0 336.0 384.0 336.3 386.0 336.0 C388.0 335.7 390.2 335.3 392.0 335.0 C393.8 334.7 395.3 334.0 397.0 334.0 C398.7 334.0 400.5 335.2 402.0 335.0 C403.5 334.8 404.7 333.9 406.0 333.0 C407.3 332.1 408.6 331.0 410.0 329.5 C411.4 328.0 413.2 325.8 414.5 324.0 C415.8 322.2 416.8 320.1 417.5 318.5 C418.2 316.9 418.3 316.2 418.8 314.5 C419.3 312.8 420.0 310.3 420.7 308.0 C421.4 305.7 421.9 303.1 422.9 300.8 C423.9 298.6 425.5 296.6 426.7 294.5 C427.9 292.4 429.2 290.0 429.9 288.1 C430.6 286.2 430.7 284.7 431.0 283.0 C431.3 281.3 431.4 279.2 431.8 277.9 C432.2 276.6 432.8 275.1 433.3 275.1 C433.8 275.1 434.4 277.3 435.0 277.7 C435.6 278.1 436.4 276.8 436.9 277.3 C437.4 277.8 437.7 278.7 438.2 280.5 C438.7 282.3 439.2 286.4 439.7 288.1 C440.2 289.8 440.3 290.6 441.4 290.9 C442.5 291.1 445.1 289.5 446.5 289.6 C447.9 289.7 448.8 290.7 450.0 291.4 C451.2 292.1 452.7 292.7 454.0 293.6 C455.3 294.5 456.7 295.6 458.0 296.6 C459.3 297.6 460.7 298.5 462.0 299.4 C463.3 300.3 464.7 300.9 466.0 302.0 C467.3 303.1 468.7 304.3 470.0 306.0 C471.3 307.7 472.7 310.0 474.0 312.0 C475.3 314.0 476.7 316.2 478.0 318.0 C479.3 319.8 480.7 321.6 482.0 323.0 C483.3 324.4 484.7 325.6 486.0 326.6 C487.3 327.6 488.7 327.9 490.0 329.0 C491.3 330.1 492.7 331.6 494.0 333.0 C495.3 334.4 496.5 335.5 498.0 337.5 C499.5 339.5 501.5 342.4 503.0 345.0 C504.5 347.6 505.5 350.3 507.0 353.0 C508.5 355.7 510.2 358.3 512.0 361.0 C513.8 363.7 515.7 366.2 517.5 369.0 C519.3 371.8 521.1 375.2 522.6 378.0 C524.1 380.8 525.4 383.5 526.8 386.0 C528.2 388.5 529.5 390.8 530.8 393.0 C532.1 395.2 533.4 397.5 534.5 399.0 C535.6 400.5 536.3 401.3 537.2 402.0 C538.1 402.7 539.5 403.1 540.0 403.3" fill="none" stroke="#ff0000" stroke-width="1.90" stroke-linejoin="round" stroke-linecap="round"/>
<g stroke="#000" stroke-width="2" fill="none">
<path d="M82.8 30.0 V403.8 H547.8"/>
<path d="M99.5 403.5 v7.4 M168.2 403.5 v7.4 M237.0 403.5 v7.4 M305.8 403.5 v7.4 M374.5 403.5 v7.4 M443.2 403.5 v7.4 M512.0 403.5 v7.4 M133.9 403.5 v3.6 M202.6 403.5 v3.6 M271.4 403.5 v3.6 M340.1 403.5 v3.6 M408.9 403.5 v3.6 M477.6 403.5 v3.6 M546.4 403.5 v3.6 M82.8 403.5 h-8 M82.8 279.2 h-8 M82.8 154.9 h-8 M82.8 30.6 h-8 M82.8 341.4 h-4.0 M82.8 217.0 h-4.0 M82.8 92.8 h-4.0 "/>
</g>
<g font-family="'Liberation Sans', Arial, sans-serif" font-size="16" fill="#000" stroke="#000" stroke-width="0.25">
<text x="100.0" y="428.6" text-anchor="middle">500</text>
<text x="168.8" y="428.6" text-anchor="middle">1000</text>
<text x="237.5" y="428.6" text-anchor="middle">1500</text>
<text x="306.2" y="428.6" text-anchor="middle">2000</text>
<text x="375.0" y="428.6" text-anchor="middle">2500</text>
<text x="443.8" y="428.6" text-anchor="middle">3000</text>
<text x="512.5" y="428.6" text-anchor="middle">3500</text>
<text x="70.6" y="408.9" text-anchor="end">0</text>
<text x="70.6" y="284.6" text-anchor="end">0.2</text>
<text x="70.6" y="160.3" text-anchor="end">0.4</text>
<text x="70.6" y="36.0" text-anchor="end">0.6</text>
</g>
<g font-family="'Liberation Sans', Arial, sans-serif" font-weight="bold" font-size="23" fill="#000">
<text x="208.3" y="464.2">Wave number, cm<tspan font-size="15" dy="-9.5">−1</tspan></text>
<text transform="translate(26.6 256.4) rotate(-90)">Intensity</text>
</g>
<g font-family="'Liberation Sans', Arial, sans-serif" font-style="italic" font-size="14" fill="#000">
<text x="127.3" y="17.3">550</text>
<text x="220.2" y="96.7">1410</text>
<text x="424.8" y="122.3">3050-3150</text>
</g>
<path d="M126.7 16.7 L113.7 28.6" stroke="#222" stroke-width="0.9" fill="none"/><path d="M106.7 34.9 L111.9 26.7 L115.4 30.5 Z" fill="#111"/>
<path d="M231.7 101.1 L228.2 111.4" stroke="#222" stroke-width="0.9" fill="none"/><path d="M225.2 120.3 L225.8 110.6 L230.7 112.2 Z" fill="#111"/>
<path d="M460.2 125.7 L452.4 164.4" stroke="#222" stroke-width="0.9" fill="none"/><path d="M450.5 173.6 L449.8 163.9 L454.9 164.9 Z" fill="#111"/>
<path d="M460.2 125.7 L462.1 162.4" stroke="#222" stroke-width="0.9" fill="none"/><path d="M462.6 171.8 L459.5 162.5 L464.7 162.3 Z" fill="#111"/>
<rect x="379.9" y="19.7" width="164.5" height="74.1" fill="#fff" stroke="#5a5a5a" stroke-width="1.1"/>
<path d="M382.4 33.1 H426.3" stroke="#00ff00" stroke-width="2"/>
<text x="432" y="39.8" font-family="'Liberation Sans', Arial, sans-serif" font-size="19.3" fill="#000" stroke="#000" stroke-width="0.25">Copolymer 1</text>
<path d="M382.4 56.8 H426.3" stroke="#0000ff" stroke-width="2"/>
<text x="432" y="63.5" font-family="'Liberation Sans', Arial, sans-serif" font-size="19.3" fill="#000" stroke="#000" stroke-width="0.25">Copolymer 2</text>
<path d="M382.4 80.5 H426.3" stroke="#ff0000" stroke-width="2"/>
<text x="432" y="87.2" font-family="'Liberation Sans', Arial, sans-serif" font-size="19.3" fill="#000" stroke="#000" stroke-width="0.25">Copolymer 3</text>
</svg>
</body></html>
